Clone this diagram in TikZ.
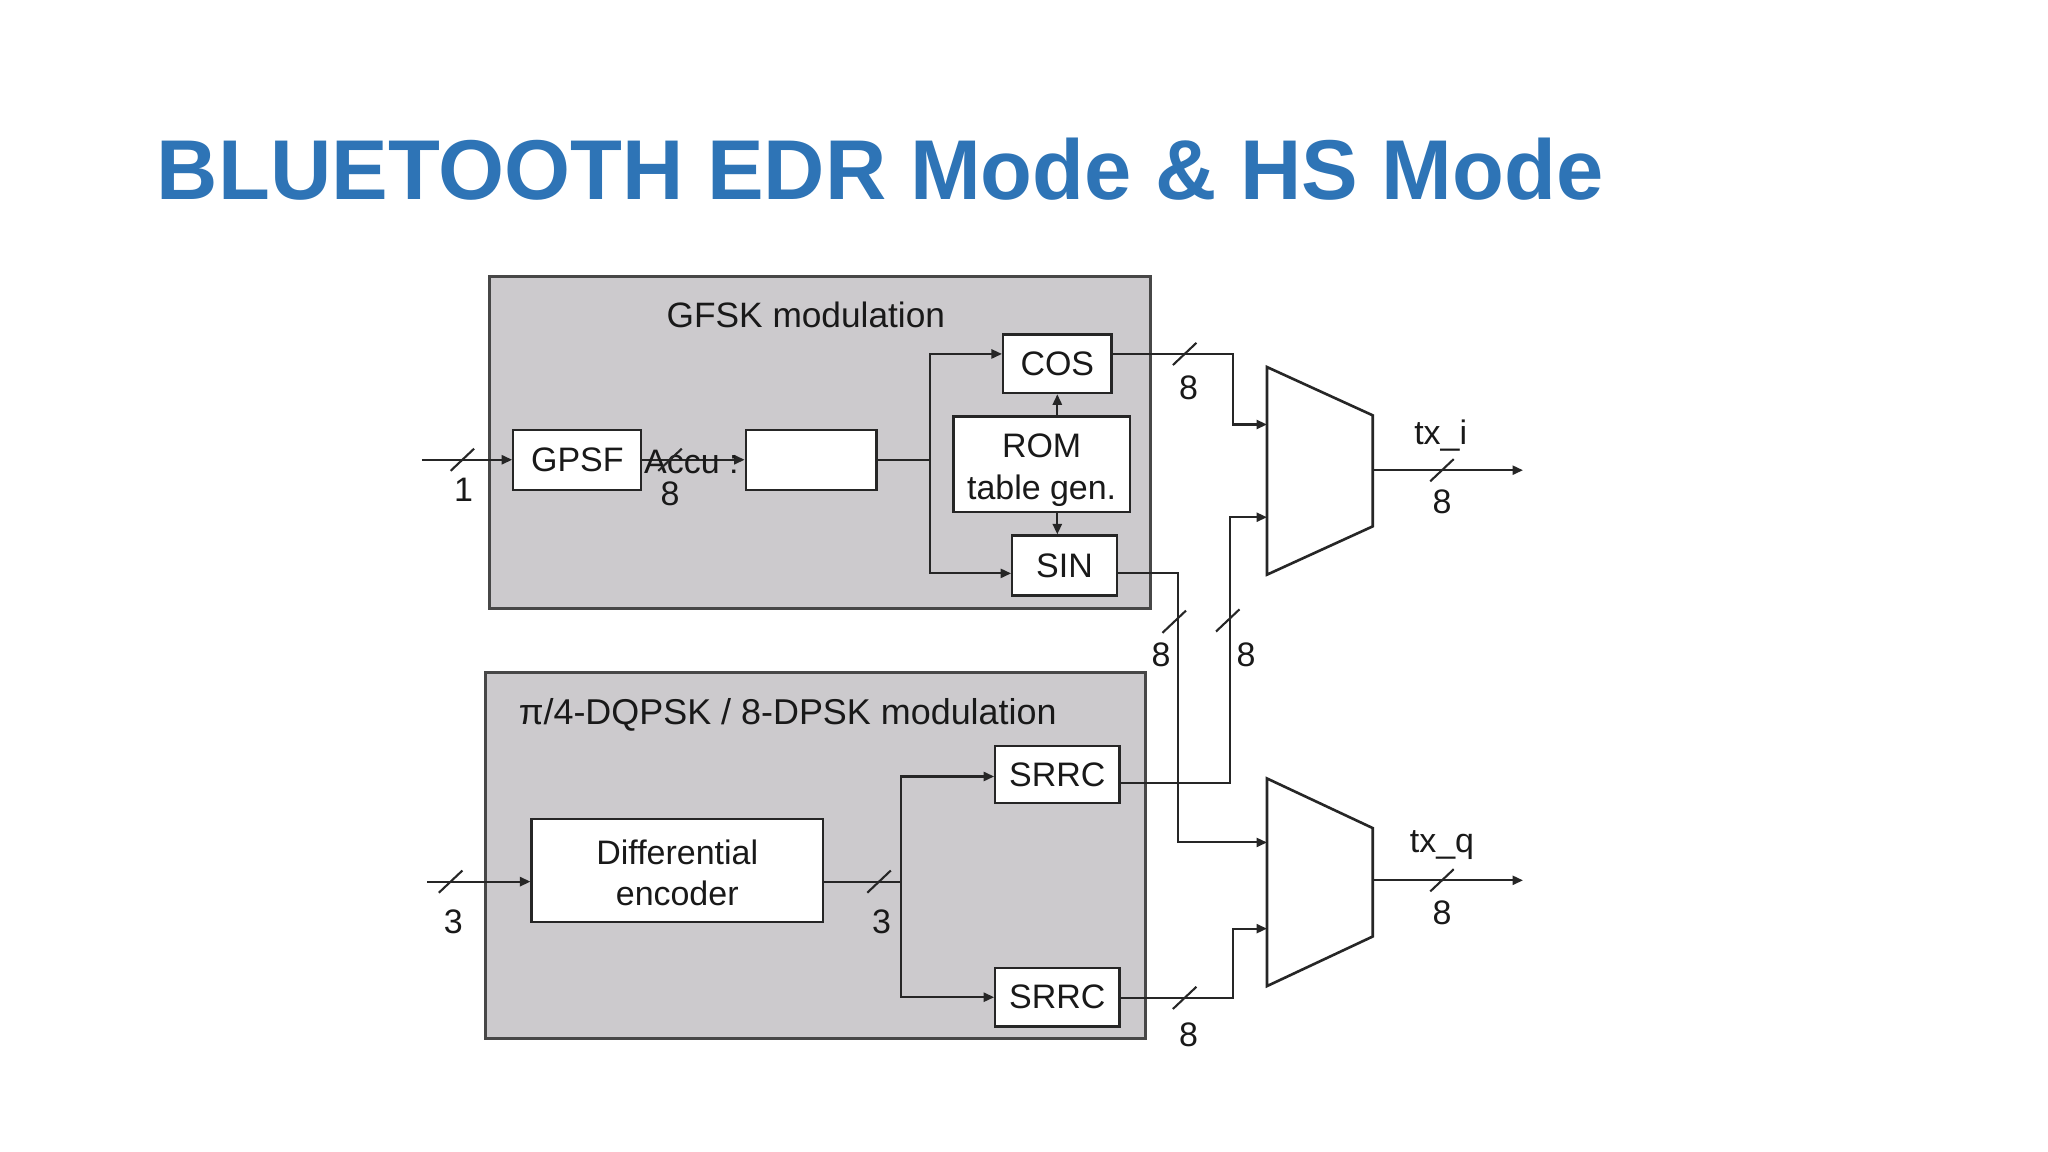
\documentclass[tikz,border=0pt]{standalone}
\usepackage{fontspec}
\setmainfont{Liberation Sans}
\usetikzlibrary{arrows.meta}
\definecolor{titleblue}{RGB}{46,116,182}
\definecolor{boxgray}{RGB}{204,202,205}
\definecolor{ink}{RGB}{38,38,38}
\definecolor{txt}{RGB}{25,25,25}
\newcommand\busmark[2]{\draw[bus] (#1,#2) +(-9,8.5) -- +(9,-8.5);}
\begin{document}
\begin{tikzpicture}[x=1pt,y=-1pt,
  lbl/.style={font=\fontsize{26}{31}\selectfont, text=txt, inner sep=0},
  blk/.style={draw=ink, line width=1.8pt, fill=white, inner sep=0, font=\fontsize{26}{33}\selectfont, text=txt, align=center},
  grp/.style={draw=ink!85, line width=2.4pt, fill=boxgray, inner sep=0},
  wire/.style={draw=ink, line width=1.6pt},
  arr/.style={wire, -{Triangle[length=8pt,width=7pt]}},
  bus/.style={draw=ink, line width=1.6pt},
  muxs/.style={draw=ink, line width=2pt, fill=white, line join=miter},
]
\useasboundingbox (0,0) rectangle (1568,882);
\fill[white] (0,0) rectangle (1568,882);

% title
\node[anchor=base west, inner sep=0, text=titleblue,
      font=\fontsize{65}{78}\selectfont\bfseries] (title) at (120,152.6)
      {BLUETOOTH EDR Mode \& HS Mode};

% group boxes
\node[grp, minimum width=506pt, minimum height=254pt] (gfsk) at (628,339) {};
\node[grp, minimum width=505pt, minimum height=280pt] (dpsk) at (624.5,655) {};
\node[lbl, font=\fontsize{27}{32}\selectfont] (gfsklbl) at (617,241) {GFSK modulation};
\node[lbl, anchor=base west, font=\fontsize{27.5}{32}\selectfont] (dpsklbl) at (397,555) {π/4-DQPSK / 8-DPSK modulation};

% GFSK blocks
\node[blk, minimum width=98pt, minimum height=46pt] (gpsf) at (442,352) {GPSF};
\node[blk, minimum width=100pt, minimum height=46pt] (accu) at (621,352) {};
\node[blk, minimum width=83pt, minimum height=45pt] (cos) at (809.5,278.5) {COS};
\node[blk, minimum width=135pt, minimum height=73pt] (rom) at (797.5,355.5)
  {\raisebox{-4.5pt}[\height][\depth]{\begin{tabular}{@{}c@{}}ROM\\[-1pt]table gen.\end{tabular}}};
\node[blk, minimum width=80pt, minimum height=46pt] (sin) at (815,433) {SIN};

% DPSK blocks
\node[blk, minimum width=223pt, minimum height=79pt] (enc) at (518.5,666.5)
  {\raisebox{-4.5pt}[\height][\depth]{\begin{tabular}{@{}c@{}}Differential\\[-1pt]encoder\end{tabular}}};
\node[blk, minimum width=95pt, minimum height=44pt] (srrc1) at (809.5,593) {SRRC};
\node[blk, minimum width=95pt, minimum height=45pt] (srrc2) at (809.5,763.5) {SRRC};

% multiplexers
\draw[muxs] (970,281) -- (1051,318) -- (1051,403) -- (970,440) -- cycle;
\draw[muxs] (970,596) -- (1051,634) -- (1051,717) -- (970,755) -- cycle;
\coordinate (m1a) at (970,325);
\coordinate (m1b) at (970,396);
\coordinate (m1o) at (1051,360);
\coordinate (txi) at (1166,360);
\coordinate (m2a) at (970,645);
\coordinate (m2b) at (970,711);
\coordinate (m2o) at (1051,674);
\coordinate (txq) at (1166,674);

% GFSK connections
\coordinate (in1) at (323,352);
\draw[arr] (in1) -- (gpsf.west);
\busmark{354}{352}
\node[lbl] (l1) at (355,375) {1};
\draw[arr] (gpsf.east) -- (accu.west);
\node[lbl, anchor=base west] (accutxt) at (493,362.4) {Accu :};
\busmark{513}{352}
\node[lbl] (l8a) at (513,378) {8};
\coordinate (split1) at (712,352);
\draw[wire] (accu.east) -- (split1);
\draw[arr] (split1) |- ([yshift=7.5pt]cos.west);
\draw[arr] (split1) |- ([yshift=-6pt]sin.west);
\draw[arr] ([xshift=12pt]rom.north) -- (cos.south);
\draw[arr] ([xshift=12pt]rom.south) -- ([xshift=-5.5pt]sin.north);

% DPSK connections
\coordinate (in2) at (327,675);
\draw[arr] (in2) -- ([yshift=-8.5pt]enc.west);
\busmark{345}{675}
\node[lbl] (l3a) at (347,706) {3};
\coordinate (split2) at (690,675);
\draw[wire] ([yshift=-8.5pt]enc.east) -- (split2);
\busmark{673}{675}
\node[lbl] (l3b) at (675,706) {3};
\draw[arr] (split2) |- ([yshift=-1.5pt]srrc1.west);
\draw[arr] (split2) |- (srrc2.west);

% to multiplexers
\draw[arr] ([yshift=7.5pt]cos.east) -- ++(92,0) |- (m1a);
\busmark{907}{271}
\node[lbl] (l8b) at (910,297) {8};

\draw[arr] ([yshift=-6pt]sin.east) -- ++(46,0) |- (m2a);
\busmark{899}{476}
\node[lbl] (l8c) at (889,501) {8};

\draw[arr] ([yshift=-6.5pt]srrc1.east) -- ++(84,0) |- (m1b);
\busmark{940}{475}
\node[lbl] (l8d) at (954,501) {8};

\draw[arr] ([yshift=-0.5pt]srrc2.east) -- ++(86,0) |- (m2b);
\busmark{907}{764}
\node[lbl] (l8e) at (910,792) {8};

% outputs
\draw[arr] (m1o) -- (txi);
\busmark{1104}{360}
\node[lbl, anchor=base] (txilbl) at (1103,340.7) {tx\_i};
\node[lbl] (l8f) at (1104,384) {8};

\draw[arr] (m2o) -- (txq);
\busmark{1104}{674}
\node[lbl, anchor=base] (txqlbl) at (1104,653) {tx\_q};
\node[lbl] (l8g) at (1104,699) {8};
\end{tikzpicture}
\end{document}
